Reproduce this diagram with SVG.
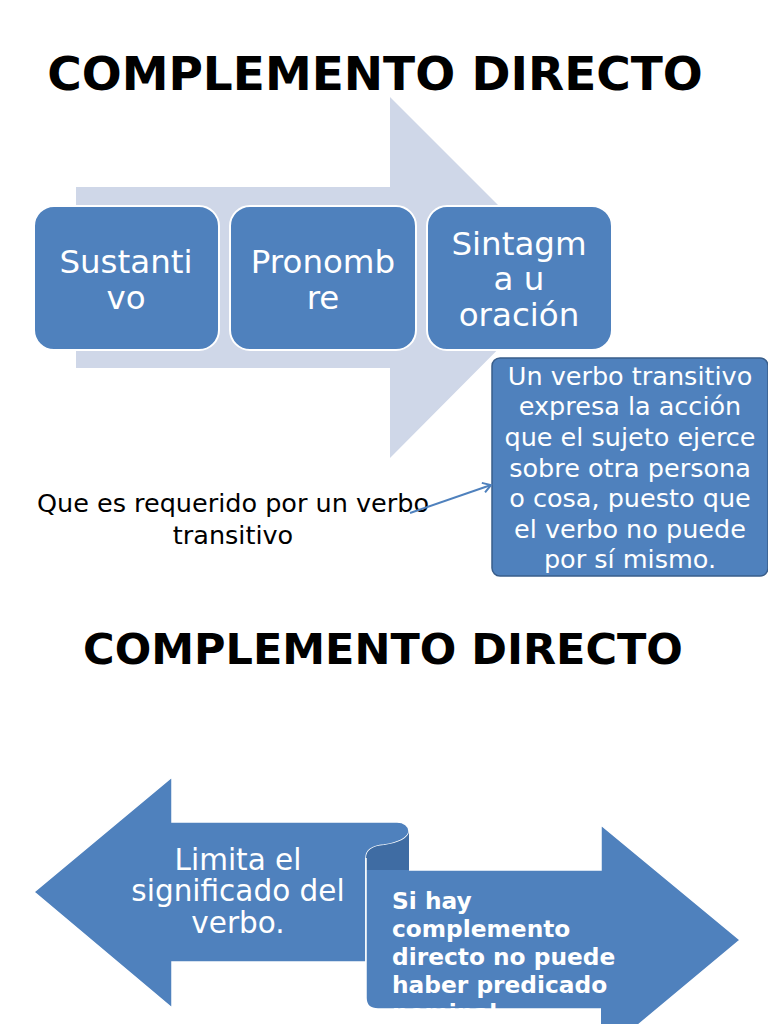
<svg xmlns="http://www.w3.org/2000/svg" width="768" height="1024" viewBox="0 0 768 1024">
<defs>
<style>
.title{font-family:"DejaVu Sans",sans-serif;font-weight:bold;fill:#000;text-anchor:middle}
.box{fill:#4f81bd;stroke:#fff;stroke-width:2}
.bt{font-family:"DejaVu Sans",sans-serif;font-size:32.5px;fill:#fff;text-anchor:middle}
.ct{font-family:"DejaVu Sans",sans-serif;font-size:25.5px;fill:#fff;text-anchor:middle}
.pt{font-family:"DejaVu Sans",sans-serif;font-size:25.5px;fill:#000;text-anchor:middle}
.lt{font-family:"DejaVu Sans",sans-serif;font-size:29.5px;fill:#fff;text-anchor:middle}
.blue{fill:#4f81bd}
</style>
<marker id="ah" markerWidth="12" markerHeight="12" refX="10" refY="6" orient="auto" markerUnits="userSpaceOnUse">
<path d="M2,1 L10,6 L2,11" fill="none" stroke="#4f81bd" stroke-width="2"/>
</marker>
</defs>
<rect width="768" height="1024" fill="#fff"/>
<text class="title" x="375" y="90" font-size="47">COMPLEMENTO DIRECTO</text>
<g id="bgarrow">
<polygon points="76,187 390,187 390,97 570,277 390,458 390,368 76,368" fill="#cfd7e8"/>
</g>
<g id="n1">
<rect class="box" x="34" y="206" width="185" height="144" rx="20"/>
<text class="bt" x="126" y="273">Sustanti</text>
<text class="bt" x="126" y="309">vo</text>
</g>
<g id="n2">
<rect class="box" x="230" y="206" width="186" height="144" rx="20"/>
<text class="bt" x="323" y="273">Pronomb</text>
<text class="bt" x="323" y="309">re</text>
</g>
<g id="n3">
<rect class="box" x="427" y="206" width="185" height="144" rx="20"/>
<text class="bt" x="519" y="255">Sintagm</text>
<text class="bt" x="519" y="290">a u</text>
<text class="bt" x="519" y="326">oración</text>
</g>
<g id="n4">
<rect x="492" y="358" width="276" height="218" rx="8" fill="#4f81bd" stroke="#385d8a" stroke-width="1.5"/>
<text class="ct" x="630" y="385">Un verbo transitivo</text>
<text class="ct" x="630" y="415">expresa la acción</text>
<text class="ct" x="630" y="446">que el sujeto ejerce</text>
<text class="ct" x="630" y="477">sobre otra persona</text>
<text class="ct" x="630" y="507">o cosa, puesto que</text>
<text class="ct" x="630" y="538">el verbo no puede</text>
<text class="ct" x="630" y="568">por sí mismo.</text>
</g>
<g id="n5">
<text class="pt" x="233" y="512">Que es requerido por un verbo</text>
<text class="pt" x="233" y="544">transitivo</text>
</g>
<g id="connectors">
<line x1="410" y1="513" x2="491" y2="485" stroke="#4f81bd" stroke-width="2" marker-end="url(#ah)"/>
</g>
<text class="title" x="383" y="664" font-size="43">COMPLEMENTO DIRECTO</text>
<g id="leftarrow">
<path class="blue" stroke="#fff" stroke-width="1.5" d="M34,892 L172,777 L172,822 L397,822 C404,822 409,826 409,831 C409,838 398,843 384,845 C372,846 366,850 366,858 L366,962 L172,962 L172,1008 Z"/>
<text class="lt" x="238" y="870">Limita el</text>
<text class="lt" x="238" y="901">significado del</text>
<text class="lt" x="238" y="933">verbo.</text>
</g>
<g id="rightarrow">
<path fill="#3f6ca3" d="M366,858 C366,850 372,846 384,845 C398,843 409,838 409,831 L409,871 L366,871 Z"/>
<path class="blue" d="M366,870 L366,998 Q366,1009 378,1009 L601,1009 L601,1056 L740,940 L601,825 L601,870 Z"/>
<path fill="none" stroke="#fff" stroke-width="1.5" d="M366,858 L366,998 Q366,1009 378,1009 L601,1009 M601,1056 L740,940 L601,825 L601,870 L409,870"/>
<g font-family="DejaVu Sans, sans-serif" font-size="23.3" font-weight="bold" fill="#fff">
<text x="392" y="909">Si hay</text>
<text x="392" y="937">complemento</text>
<text x="392" y="965">directo no puede</text>
<text x="392" y="993">haber predicado</text>
<text x="392" y="1021">nominal.</text>
</g>
</g>
</svg>
